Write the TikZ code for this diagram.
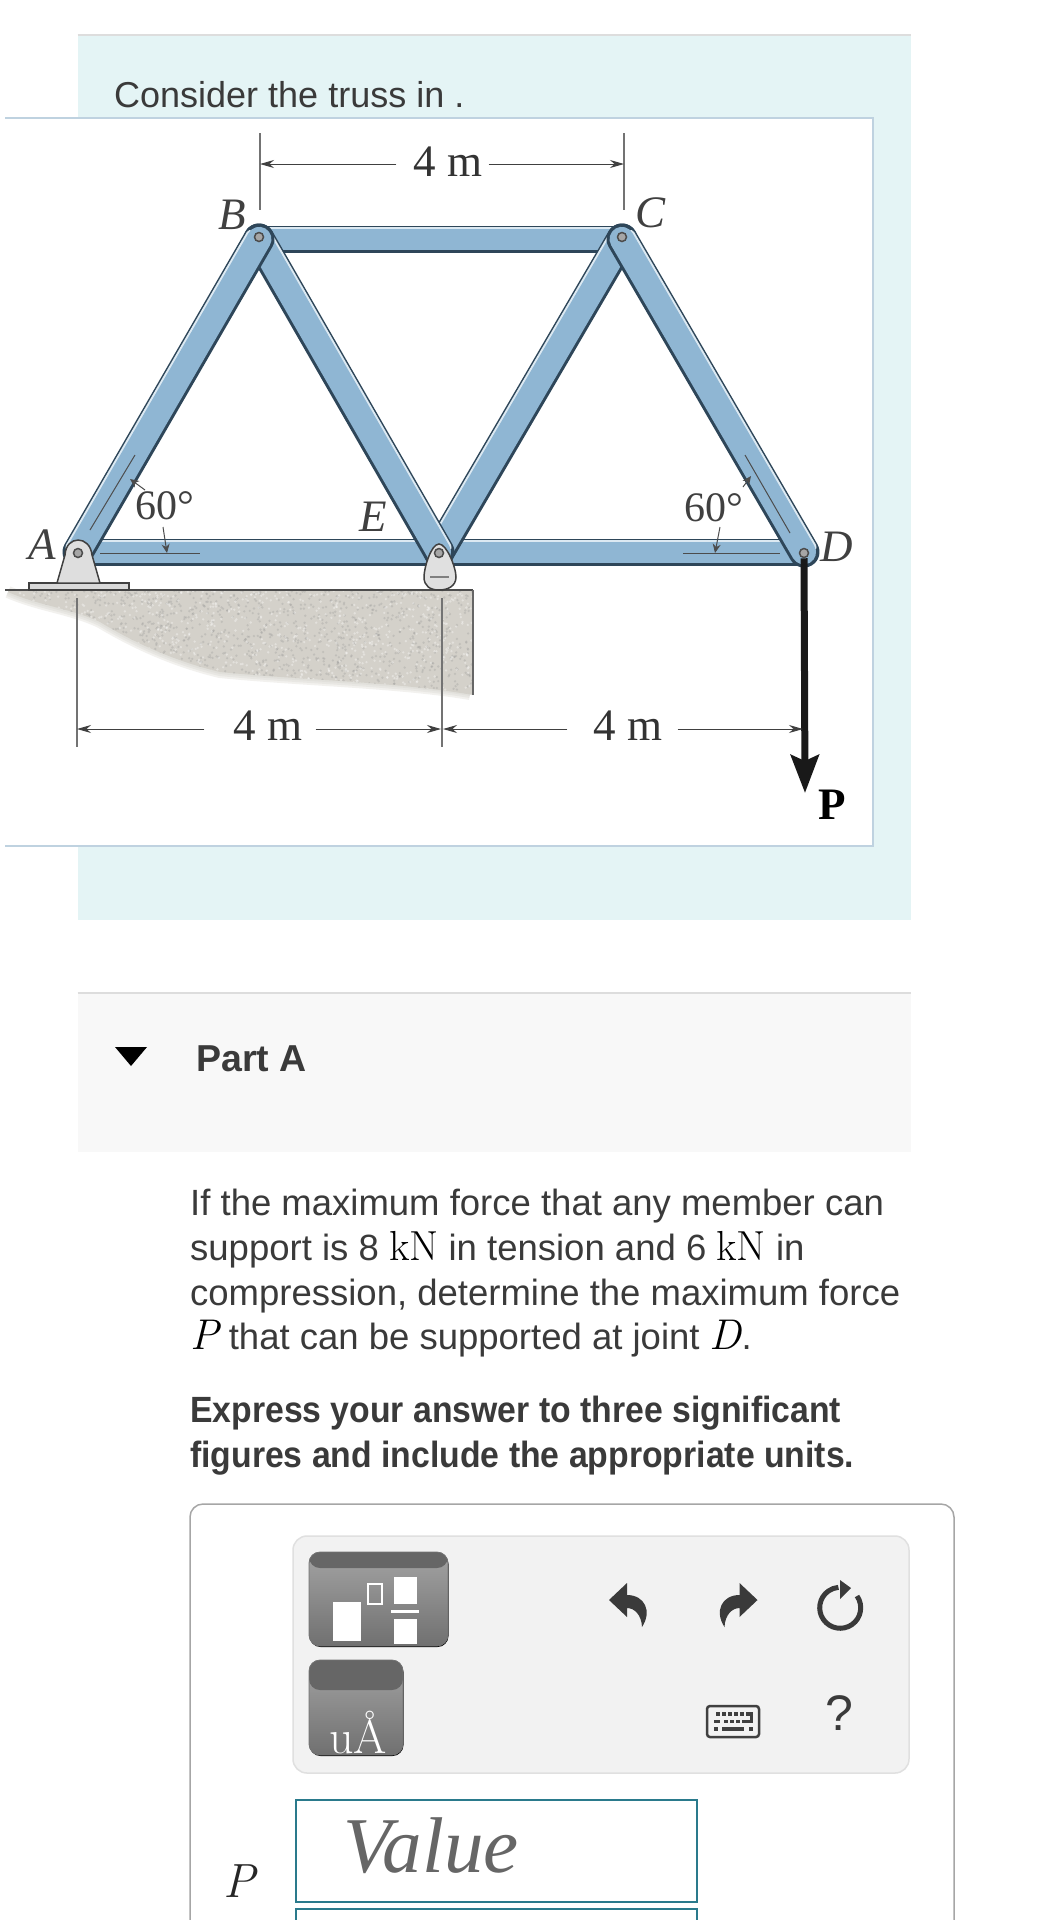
\documentclass[tikz,border=0pt]{standalone}
\usepackage{fontspec}
\usetikzlibrary{arrows.meta,calc,positioning}
\newfontfamily\uifont[BoldFeatures={FakeStretch=0.925}]{Liberation Sans}
\newfontfamily\uiplain{Liberation Sans}
\newfontfamily\labfont{Liberation Serif}
\definecolor{panelteal}{HTML}{E4F4F5}
\definecolor{panelgray}{HTML}{F8F8F8}
\definecolor{rulegray}{HTML}{DDDDDD}
\definecolor{frameblue}{HTML}{BFD2E0}
\definecolor{barblue}{HTML}{8FB6D3}
\definecolor{barlight}{HTML}{DCE9F2}
\definecolor{bardark}{HTML}{2E4659}
\definecolor{groundgray}{HTML}{D4D1CA}
\definecolor{inktext}{HTML}{3A3A3A}
\definecolor{valueteal}{HTML}{2A7A8C}
\tikzset{
  pinnode/.style={circle,draw=black!70,fill=black!35,line width=1.5pt,minimum size=9pt,inner sep=0pt},
  lengthtext/.style={font=\labfont\fontsize{45}{45}\selectfont,text=black!80,inner sep=6pt},
  jointtext/.style={font=\labfont\itshape\fontsize{45}{45}\selectfont,text=black!75,inner sep=0pt},
  angletext/.style={font=\labfont\fontsize{42}{42}\selectfont,text=black!75,inner sep=0pt},
  dimline/.style={line width=1pt,black!75,-{Stealth[length=14pt,width=8pt]}},
  extline/.style={line width=1.2pt,black!55},
  tickarrow/.style={line width=1pt,black!70,-{Stealth[length=9pt,width=8pt]}},
  bodytext/.style={font=\uifont\fontsize{36.5}{44.7}\selectfont,text=inktext,inner sep=0pt,anchor=north west,align=left},
  toolbtn/.style={rounded corners=11pt,draw=black!55,line width=.8pt,top color=black!36,bottom color=black!56,
    path picture={\fill[black!60] (path picture bounding box.north west) rectangle ([yshift=-#1]path picture bounding box.north east);}},
  undoicon/.pic={\fill[inktext] (-19.5,-5) -- (-1.5,-22) -- (-1.5,-10) .. controls (16,-10) and (24,6) .. (13.5,22) .. controls (13,10) and (6,3) .. (-1.5,3) -- (-1.5,12) -- cycle;}
}
% one truss bar of width #3, left-hand side of the direction is the lit one
\newcommand\member[3]{
  \draw[line width=#3 pt,bardark,line cap=round] (#1) -- (#2);
  \draw[line width=8pt,barlight,line cap=round] ($(#1)!#3*0.5pt-5.5pt!90:(#2)$) -- ($(#2)!#3*0.5pt-5.5pt!-90:(#1)$);
  \draw[line width=#3 pt-6.5pt,barblue,line cap=round] ($(#1)!-0.25pt!90:(#2)$) -- ($(#2)!-0.25pt!-90:(#1)$);
}
\newcommand\groundpath{(8,590) -- (473,590) -- (473,695) .. controls (400,682) and (300,680) .. (220,672)
      .. controls (170,660) and (130,640) .. (100,622) .. controls (70,608) and (40,606) .. (8,592) -- cycle}
\begin{document}
\begin{tikzpicture}[x=1pt,y=-1pt]
  \useasboundingbox (0,0) rectangle (1039,1920);
  \fill[white] (0,0) rectangle (1039,1920);

  % panels
  \fill[panelteal] (77.5,35) rectangle (911,920);
  \draw[rulegray,line width=1.5pt] (77.5,35) -- (911,35);
  \node[bodytext,anchor=base west,font=\uiplain\fontsize{36}{36}\selectfont] (intro) at (114,107) {Consider the truss in .};
  \fill[white] (5,118) rectangle (873,846);
  \draw[frameblue,line width=1.5pt] (5,118) -- (873,118) -- (873,846) -- (5,846);

  % ground
  \foreach \w in {12,8,4}
    \draw[groundgray,opacity=.3,line width=\w pt,line join=round]
      (8,592) .. controls (40,606) and (70,608) .. (100,622) .. controls (130,640) and (170,660) .. (220,672)
      .. controls (300,680) and (400,682) .. (470,694);
  \fill[groundgray] \groundpath;
  \begin{scope}
    \clip \groundpath;
    \pgfmathsetseed{7}
    \foreach \i in {1,...,1400}
      \fill[black!45,opacity=.25] ({8+465*rnd},{590+105*rnd}) circle (1.3pt);
    \foreach \i in {1,...,1000}
      \fill[white,opacity=.35] ({8+465*rnd},{590+105*rnd}) circle (1.3pt);
  \end{scope}
  \draw[black!70,line width=2pt] (5,590) -- (473,590);
  \draw[black!60,line width=2pt] (473,590) -- (473,695);

  % joints
  \coordinate (A) at (78,552);
  \coordinate (B) at (259,239);
  \coordinate (C) at (622,239);
  \coordinate (D) at (804,552);
  \coordinate (E) at (439,552);

  \member{B}{C}{27}
  \member{A}{D}{27}
  \member{E}{C}{31}
  \member{B}{E}{31}
  \member{C}{D}{31}
  \member{A}{B}{31}

  % supports
  \draw[black!75,fill=black!15,line width=1.5pt] (29,583) rectangle (129,590);
  \draw[black!75,fill=black!13,line width=1.5pt] (57,583) -- (65,555) .. controls (66,535) and (90,535) .. (92,555) -- (100,583) -- cycle;
  \draw[black!75,fill=black!12,line width=1.5pt] (439,544) .. controls (447,544) and (456,568) .. (456,577) .. controls (456,586) and (448,590) .. (439,590)
      .. controls (430,590) and (424,586) .. (424,577) .. controls (424,568) and (431,544) .. (439,544) -- cycle;
  \draw[black!50,line width=1.5pt] (430,577) -- (449,577);

  \node[pinnode] (pinA) at (78,553) {};
  \node[pinnode] (pinB) at (259,237) {};
  \node[pinnode] (pinC) at (622,237) {};
  \node[pinnode] (pinD) at (804,553) {};
  \node[pinnode] (pinE) at (439,553) {};

  \node[jointtext] (labA) at (42,545) {A};
  \node[jointtext] (labB) at (232,215) {B};
  \node[jointtext] (labC) at (650,213) {C};
  \node[jointtext] (labD) at (837,547) {D};
  \node[jointtext] (labE) at (373,517) {E};

  % load
  \draw[black!90,line width=7pt,-{Stealth[length=38pt,width=28pt,inset=6pt]}] (pinD) -- (805,793) coordinate (tipP);
  \node[font=\labfont\bfseries\fontsize{45}{45}\selectfont,inner sep=0pt] (labP) at (832,805) {P};

  % dimensions
  \draw[extline] (260,133) -- (260,210);
  \draw[extline] (624,133) -- (624,210);
  \draw[extline] (77,598) -- (77,747);
  \draw[extline] (442,598) -- (442,747);
  \coordinate (dimB) at (260,164);
  \coordinate (dimC) at (624,164);
  \coordinate (dimA) at (77,729);
  \coordinate (dimEl) at (441,729);
  \coordinate (dimEr) at (443,729);
  \coordinate (dimD) at (803,729);
  \node[lengthtext] (lenBC) at (448,162) {4 m};
  \node[lengthtext] (lenAE) at (268,726) {4 m};
  \node[lengthtext] (lenED) at (628,726) {4 m};
  \draw[dimline] ([xshift=-11pt]lenBC.west |- dimB) -- (dimB);
  \draw[dimline] (lenBC.east |- dimC) -- (dimC);
  \draw[dimline] ([xshift=-23pt]lenAE.west |- dimA) -- (dimA);
  \draw[dimline] ([xshift=7pt]lenAE.east |- dimEl) -- (dimEl);
  \draw[dimline] ([xshift=-20pt]lenED.west |- dimEr) -- (dimEr);
  \draw[dimline] ([xshift=9pt]lenED.east |- dimD) -- (dimD);

  % angles
  \node[angletext] (angA) at (165,506) {60°};
  \node[angletext] (angD) at (714,508) {60°};
  \draw[line width=1pt,black!70] (90,530) -- (135,455);
  \draw[line width=1pt,black!70] (100,553) -- (200,553);
  \draw[line width=1pt,black!70] (745,455) -- (790,533);
  \draw[line width=1pt,black!70] (683,553) -- (780,553);
  \draw[tickarrow] (145,490) -- (130,479);
  \draw[tickarrow] (163,527) -- (167,553);
  \draw[tickarrow] (743,487) -- (751,476);
  \draw[tickarrow] (720,527) -- (715,553);

  % part A
  \fill[panelgray] (77.5,993) rectangle (911,1152);
  \draw[rulegray,line width=1.5pt] (77.5,993) -- (911,993);
  \fill[black] (115,1047) -- (147,1047) -- (131,1066) -- cycle;
  \node[bodytext,anchor=base west,font=\uiplain\bfseries\fontsize{37.5}{37.5}\selectfont] (parta) at (196,1071) {Part A};
  \node[bodytext] (question) at (190,1189) {If the maximum force that any member can\\
    support is 8 {\rmfamily\fontsize{42}{44.7}\selectfont\color{black}kN} in tension and 6 {\rmfamily\fontsize{42}{44.7}\selectfont\color{black}kN} in\\
    compression, determine the maximum force\\
    {\rmfamily\itshape\fontsize{43}{44.7}\selectfont\color{black}P} that can be supported at joint {\rmfamily\itshape\fontsize{43}{44.7}\selectfont\color{black}D}.};
  \node[bodytext,font=\uifont\bfseries\fontsize{36.5}{44.7}\selectfont] (howto) at (190,1396) {Express your answer to three significant\\figures and include the appropriate units.};

  % answer box
  \draw[black!35,line width=1.5pt,rounded corners=13pt] (190,1920) -- (190,1504) -- (954,1504) -- (954,1920);
  \draw[black!12,fill=black!5,line width=1.5pt,rounded corners=14pt] (293,1536) rectangle (909,1773);

  \fill[black,rounded corners=11pt] (309.5,1553) rectangle (448.5,1647);
  \fill[black,rounded corners=11pt] (309.5,1661) rectangle (403.5,1756);
  \node[toolbtn=16pt,minimum width=139pt,minimum height=94pt] (fracbtn) at (378.5,1599) {};
  \fill[white] (333,1602) rectangle (361,1641);
  \draw[white,line width=2pt] (368,1584) rectangle (382,1604);
  \fill[white] (394,1577) rectangle (417,1604);
  \fill[white] (391,1610) rectangle (419,1613);
  \fill[white] (394,1619) rectangle (417,1644);

  \node[toolbtn=30pt,minimum width=94pt,minimum height=95pt] (unitbtn) at (356,1707.5) {};
  \node[anchor=base,font=\fontsize{48}{48}\selectfont,text=white,inner sep=0pt] (unittext) at (358,1753) {uÅ};

  \pic at (628.5,1605) {undoicon};
  \pic[xscale=-1] at (738,1605) {undoicon};

  \draw[inktext,line width=5pt] (857,1596) arc[start angle=35,end angle=-265,radius=20.5pt];
  \fill[inktext] (840,1580) -- (851,1588) -- (840,1599) -- cycle;

  \draw[black!75,fill=black!5,line width=2.5pt,rounded corners=3pt] (707,1706) rectangle (759,1737);
  \foreach \x in {716,722,...,746}
    \fill[black!75] (\x,1712) rectangle ++(3.5,3.5);
  \fill[black!75] (714,1719.5) rectangle (720,1723);
  \foreach \x in {724,730,...,742}
    \fill[black!75] (\x,1719.5) rectangle ++(3.5,3.5);
  \fill[black!75] (750,1712) rectangle (753,1723);
  \fill[black!75] (746,1719.5) rectangle (753,1723);
  \fill[black!75] (714,1727) rectangle ++(3.5,3.5);
  \fill[black!75] (722,1727) rectangle (744,1730.5);
  \fill[black!75] (749,1727) rectangle ++(3.5,3.5);
  \node[font=\uiplain\fontsize{50}{50}\selectfont,text=inktext,inner sep=0pt] (helpmark) at (839,1713) {?};

  \node[font=\rmfamily\itshape\fontsize{48}{48}\selectfont,text=black!85,inner sep=0pt] (labvar) at (239,1881) {P};
  \draw[valueteal,fill=white,line width=2pt] (296,1799.5) rectangle (697,1902);
  \node[font=\labfont\itshape\fontsize{79}{79}\selectfont,text=black!60,inner sep=0pt,anchor=base west] (valuetext) at (343,1872) {Value};
  \draw[valueteal,line width=2pt] (296,1920) -- (296,1909) -- (697,1909) -- (697,1920);
\end{tikzpicture}
\end{document}
